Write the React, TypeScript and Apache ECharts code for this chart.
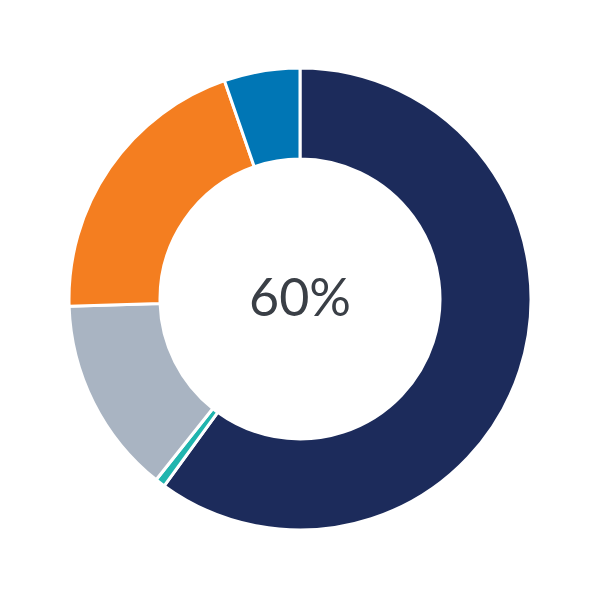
import React, { useEffect, useRef } from "react";
import * as echarts from "echarts";

const categories = ["Navy", "Teal", "Gray", "Orange", "Blue"];
const values = [60, 0.7, 13.8, 20.2, 5.3];
const colors = ["#1c2b5b", "#20b5ae", "#a9b4c2", "#f47e20", "#0076b5"];
const centerLabel = "60%";

export default function App() {
  const ref = useRef<HTMLDivElement>(null);
  useEffect(() => {
    if (!ref.current) return;
    const chart = echarts.init(ref.current, null, { renderer: "svg" });
    chart.setOption({
      animation: false,
      backgroundColor: "#ffffff",
      series: [
        {
          type: "pie",
          center: [300, 299],
          radius: [140, 231],
          startAngle: 90,
          clockwise: true,
          label: { show: false },
          labelLine: { show: false },
          itemStyle: { borderColor: "#ffffff", borderWidth: 3 },
          data: categories.map((name, i) => ({
            name,
            value: values[i],
            itemStyle: { color: colors[i] },
          })),
        },
      ],
      graphic: [
        {
          type: "text",
          x: 300,
          y: 296,
          style: {
            text: centerLabel,
            fontFamily: "Lato",
            fontSize: 52,
            fill: "#3a3f46",
            textAlign: "center",
            textVerticalAlign: "middle",
          },
        },
      ],
    });
    return () => chart.dispose();
  }, []);
  return (
    <div
      ref={ref}
      style={{ position: "absolute", left: 0, top: 0, width: 600, height: 599 }}
    />
  );
}
